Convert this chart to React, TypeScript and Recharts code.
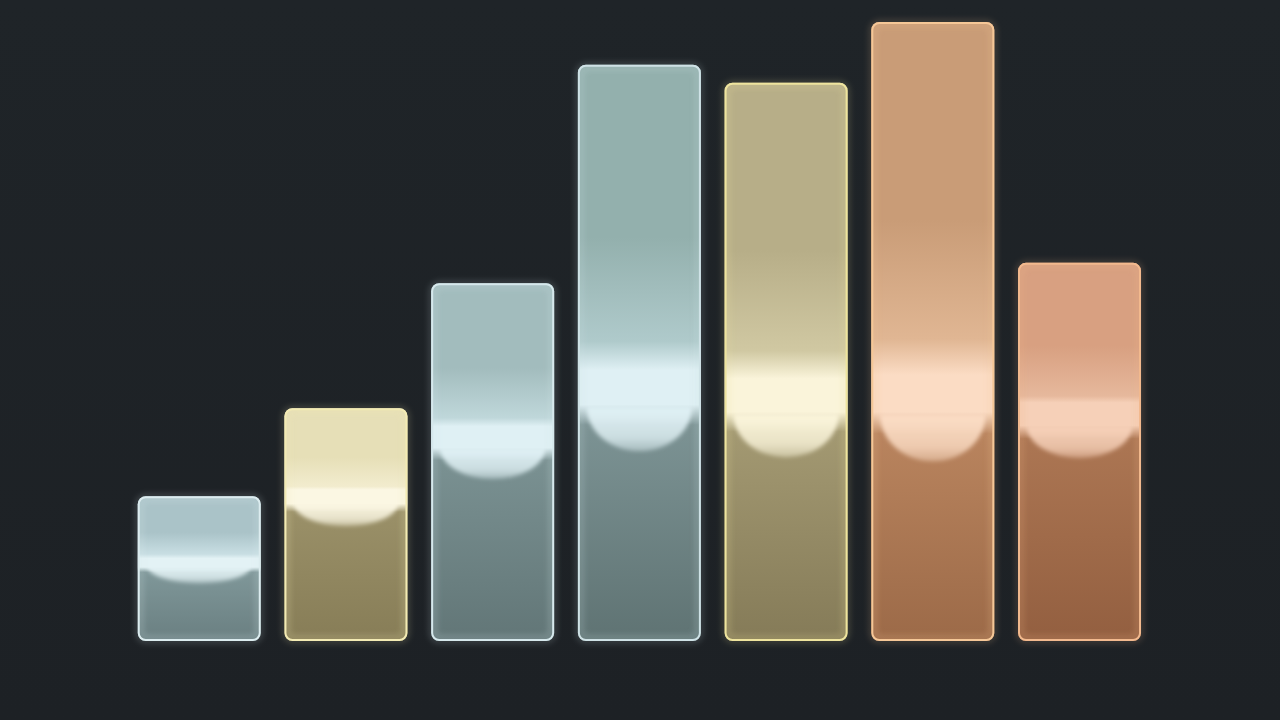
import React from "react";
import { BarChart, Bar, XAxis, YAxis } from "recharts";

const categories = ["A", "B", "C", "D", "E", "F", "G"];
const values = [23.4, 37.6, 57.8, 93.1, 90.2, 100, 61.1];

// colour scheme per bar: top, mid, highlight, lower, bottom, rim; `at` = where the bright band ends
const palettes = [
  { top: "#aac3c8", mid: "#c8dee3", hi: "#e3f2f5", low: "#7f9799", bottom: "#6a7f81", rim: "#dcecef", at: 0.5 },
  { top: "#e6dfb7", mid: "#f2ecce", hi: "#fbf7e3", low: "#9a9068", bottom: "#877d57", rim: "#f3ebb4", at: 0.42 },
  { top: "#a2bcbd", mid: "#bfd7da", hi: "#dff0f4", low: "#7a9192", bottom: "#627677", rim: "#d6e8ec", at: 0.47 },
  { top: "#93b0ad", mid: "#afcacb", hi: "#dff0f4", low: "#7c9394", bottom: "#5f7373", rim: "#cfe2e6", at: 0.6 },
  { top: "#b7ae88", mid: "#d0c8a2", hi: "#faf4da", low: "#a39972", bottom: "#857b58", rim: "#eee49e", at: 0.6 },
  { top: "#c99c77", mid: "#e0b693", hi: "#fbdcc4", low: "#b9845e", bottom: "#9c6a48", rim: "#f5c797", at: 0.64 },
  { top: "#d8a081", mid: "#e6b89c", hi: "#f6d0b8", low: "#ac7653", bottom: "#935f40", rim: "#f2b98e", at: 0.44 },
];

const data = categories.map((name, i) => ({ name, value: values[i] }));

function MetalBar(props: any) {
  const { x, y, width, height, index } = props;
  const p = palettes[index];
  const r = 8;
  const hy = y + height * p.at;
  const id = "g" + index;
  const ry = 10 + height * 0.06;
  const x1 = x + width * 0.07;
  const x2 = x + width * 0.93;
  return (
    <g>
      <defs>
        <linearGradient id={id} x1="0" y1="0" x2="0" y2="1">
          <stop offset="0" stopColor={p.top} />
          <stop offset={p.at * 0.5} stopColor={p.top} />
          <stop offset={p.at * 0.8} stopColor={p.mid} />
          <stop offset={p.at - 0.07} stopColor={p.hi} />
          <stop offset={p.at - 0.01} stopColor={p.hi} />
          <stop offset={p.at + 0.025} stopColor={p.low} />
          <stop offset="1" stopColor={p.bottom} />
        </linearGradient>
        <linearGradient id={id + "d"} x1="0" y1="0" x2="0" y2="1">
          <stop offset="0" stopColor={p.hi} stopOpacity={1} />
          <stop offset="0.7" stopColor={p.hi} stopOpacity={0.8} />
          <stop offset="1" stopColor={p.hi} stopOpacity={0.45} />
        </linearGradient>
        <clipPath id={id + "c"}>
          <rect x={x} y={y} width={width} height={height} rx={r} />
        </clipPath>
        <filter id={id + "f"} x="-20%" y="-20%" width="140%" height="140%">
          <feGaussianBlur stdDeviation="3" />
        </filter>
        <filter id={id + "s"} x="-20%" y="-50%" width="140%" height="200%">
          <feGaussianBlur stdDeviation="2" />
        </filter>
      </defs>
      <rect x={x} y={y} width={width} height={height} rx={r} fill="none" stroke={p.rim} strokeWidth={3} opacity={0.3} filter={`url(#${id}f)`} />
      <rect x={x} y={y} width={width} height={height} rx={r} fill={`url(#${id})`} />
      <g clipPath={`url(#${id}c)`}>
        <path
          d={`M${x1},${hy - 4} A${(x2 - x1) / 2},${ry} 0 0 0 ${x2},${hy - 4} Z`}
          fill={`url(#${id}d)`}
          filter={`url(#${id}s)`}
        />
        <rect x={x + 3} y={y + 3} width={width - 6} height={height - 6} rx={r - 2} fill="none" stroke={p.rim} strokeWidth={5} opacity={0.25} filter={`url(#${id}f)`} />
      </g>
      <rect x={x + 1} y={y + 1} width={width - 2} height={height - 2} rx={r - 1} fill="none" stroke={p.rim} strokeWidth={2} />
    </g>
  );
}

export default function App() {
  return (
    <div
      style={{
        position: "absolute",
        left: 0,
        top: 0,
        width: 1280,
        height: 720,
        background: "linear-gradient(180deg, #1f2428 0%, #1d2125 100%)",
      }}
    >
      <BarChart
        width={1280}
        height={720}
        data={data}
        margin={{ top: 22, right: 127, bottom: 79, left: 126 }}
        barCategoryGap="8%"
      >
        <XAxis dataKey="name" hide />
        <YAxis hide domain={[0, 100]} />
        <Bar dataKey="value" shape={<MetalBar />} isAnimationActive={false} />
      </BarChart>
    </div>
  );
}
